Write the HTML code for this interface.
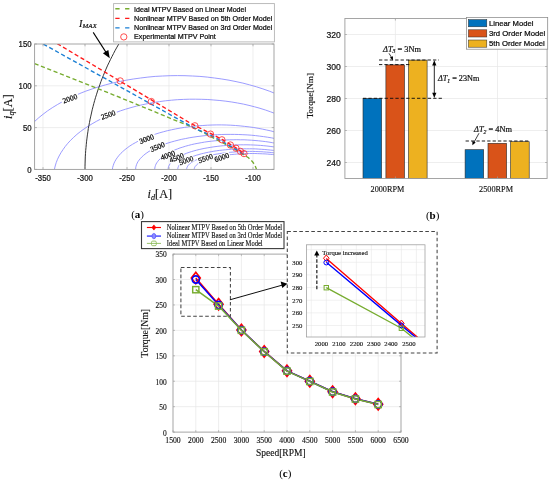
<!DOCTYPE html>
<html><head><meta charset="utf-8"><title>MTPV figure</title>
<style>html,body{margin:0;padding:0;background:#fff;overflow:hidden}svg{display:block}</style></head>
<body><svg width="550" height="482" viewBox="0 0 550 482">
<rect width="550" height="482" fill="#fff"/>
<defs>
<clipPath id="ca"><rect x="34.6" y="44.0" width="239.4" height="125.4"/></clipPath>
<clipPath id="cc"><rect x="173" y="254.1" width="228" height="178"/></clipPath>
<clipPath id="ci"><rect x="306.6" y="244.8" width="118.4" height="92.2"/></clipPath>
<mask id="cm" maskUnits="userSpaceOnUse" x="0" y="0" width="550" height="482"><rect x="0" y="0" width="550" height="482" fill="#fff"/>
<rect x="-9.0" y="-3.4" width="18" height="6.8" fill="#000" transform="translate(70,98.6) rotate(-20)"/>
<rect x="-9.0" y="-3.4" width="18" height="6.8" fill="#000" transform="translate(108.2,114.9) rotate(-19)"/>
<rect x="-9.0" y="-3.4" width="18" height="6.8" fill="#000" transform="translate(146.6,138.9) rotate(-21)"/>
<rect x="-8.5" y="-3.4" width="17" height="6.8" fill="#000" transform="translate(157.6,146.9) rotate(-22)"/>
<rect x="-8.0" y="-3.4" width="16" height="6.8" fill="#000" transform="translate(167.8,155.2) rotate(-21)"/>
<rect x="-8.0" y="-3.4" width="16" height="6.8" fill="#000" transform="translate(176.5,157.8) rotate(-21)"/>
<rect x="-8.0" y="-3.4" width="16" height="6.8" fill="#000" transform="translate(186.2,160.5) rotate(-19)"/>
<rect x="-8.5" y="-3.4" width="17" height="6.8" fill="#000" transform="translate(205.6,158.4) rotate(-19)"/>
<rect x="-8.5" y="-3.4" width="17" height="6.8" fill="#000" transform="translate(221.8,157.4) rotate(-20)"/>
</mask></defs>
<line x1="43.00" y1="44.0" x2="43.00" y2="169.4" stroke="#e6e6e6" stroke-width="0.7"/>
<line x1="85.00" y1="44.0" x2="85.00" y2="169.4" stroke="#e6e6e6" stroke-width="0.7"/>
<line x1="127.00" y1="44.0" x2="127.00" y2="169.4" stroke="#e6e6e6" stroke-width="0.7"/>
<line x1="169.00" y1="44.0" x2="169.00" y2="169.4" stroke="#e6e6e6" stroke-width="0.7"/>
<line x1="211.00" y1="44.0" x2="211.00" y2="169.4" stroke="#e6e6e6" stroke-width="0.7"/>
<line x1="253.00" y1="44.0" x2="253.00" y2="169.4" stroke="#e6e6e6" stroke-width="0.7"/>
<line x1="34.6" y1="127.60" x2="274.0" y2="127.60" stroke="#e6e6e6" stroke-width="0.7"/>
<line x1="34.6" y1="85.80" x2="274.0" y2="85.80" stroke="#e6e6e6" stroke-width="0.7"/>
<g clip-path="url(#ca)"><g mask="url(#cm)" fill="none" stroke="#8a8aff" stroke-width="0.85">
<polyline points="11.2,169.4 11.4,165.2 11.9,161.0 12.8,156.8 13.9,152.7 15.4,148.5 17.2,144.4 19.4,140.4 21.9,136.4 24.6,132.5 27.7,128.7 31.1,125.0 34.8,121.3 38.8,117.7 43.0,114.3 47.5,110.9 52.3,107.7 57.4,104.6 62.6,101.6 68.1,98.8 73.9,96.1 79.8,93.5 85.9,91.1 92.3,88.9 98.8,86.8 105.4,84.9 112.2,83.1 119.1,81.6 126.2,80.2 133.3,79.0 140.6,78.0 147.9,77.1 155.2,76.4 162.7,76.0 170.1,75.7 177.6,75.6 185.0,75.7 192.5,76.0 199.9,76.4 207.3,77.1 214.6,78.0 221.8,79.0 229.0,80.2 236.0,81.6 242.9,83.1 249.7,84.9 256.4,86.8 262.9,88.9 269.2,91.1 275.3,93.5 281.3,96.1"/>
<polyline points="54.4,169.4 55.2,166.0 56.2,162.7 57.5,159.3 59.1,156.0 60.9,152.8 63.0,149.6 65.3,146.4 67.8,143.3 70.6,140.3 73.7,137.3 76.9,134.4 80.4,131.6 84.1,128.9 88.0,126.3 92.1,123.8 96.3,121.4 100.8,119.0 105.4,116.8 110.3,114.7 115.2,112.8 120.3,110.9 125.6,109.2 131.0,107.6 136.5,106.1 142.1,104.8 147.8,103.6 153.6,102.5 159.5,101.6 165.4,100.8 171.4,100.2 177.4,99.7 183.5,99.4 189.6,99.2 195.7,99.2 201.8,99.3 207.8,99.5 213.9,100.0 219.9,100.5 225.9,101.2 231.8,102.0 237.6,103.0 243.4,104.1 249.0,105.4 254.6,106.8 260.0,108.3 265.4,110.0 270.5,111.8 275.6,113.7 280.5,115.7"/>
<polyline points="112.4,169.4 112.7,167.3 113.3,165.3 114.0,163.2 115.0,161.2 116.2,159.2 117.6,157.2 119.1,155.3 120.9,153.3 122.8,151.5 125.0,149.6 127.3,147.8 129.8,146.0 132.5,144.3 135.3,142.7 138.3,141.1 141.4,139.6 144.8,138.1 148.2,136.7 151.8,135.4 155.5,134.1 159.3,132.9 163.3,131.8 167.4,130.7 171.5,129.8 175.8,128.9 180.1,128.1 184.5,127.4 189.0,126.8 193.6,126.2 198.1,125.8 202.8,125.5 207.4,125.2 212.1,125.0 216.8,124.9 221.5,124.9 226.2,125.0 230.8,125.2 235.5,125.5 240.1,125.9 244.7,126.4 249.2,126.9 253.7,127.5 258.1,128.3 262.4,129.1 266.6,130.0 270.8,130.9 274.8,132.0 278.8,133.1"/>
<polyline points="135.7,169.4 135.7,167.8 136.0,166.3 136.5,164.7 137.2,163.1 138.0,161.6 139.1,160.1 140.3,158.6 141.7,157.1 143.3,155.6 145.0,154.2 146.9,152.8 149.0,151.4 151.3,150.1 153.7,148.8 156.3,147.6 159.0,146.4 161.9,145.2 164.9,144.1 168.0,143.0 171.3,142.0 174.6,141.1 178.1,140.2 181.7,139.3 185.4,138.6 189.2,137.8 193.1,137.2 197.0,136.6 201.0,136.1 205.1,135.6 209.2,135.2 213.3,134.9 217.5,134.7 221.8,134.5 226.0,134.4 230.2,134.4 234.5,134.4 238.7,134.5 242.9,134.7 247.1,134.9 251.3,135.2 255.4,135.6 259.5,136.1 263.5,136.6 267.4,137.2 271.3,137.8 275.1,138.6 278.7,139.3"/>
<polyline points="154.7,169.4 154.8,168.1 155.1,166.7 155.5,165.4 156.0,164.1 156.8,162.8 157.7,161.5 158.7,160.2 160.0,159.0 161.3,157.7 162.8,156.5 164.5,155.3 166.3,154.2 168.3,153.1 170.4,152.0 172.6,150.9 175.0,149.9 177.5,148.9 180.1,147.9 182.8,147.1 185.6,146.2 188.5,145.4 191.6,144.6 194.7,143.9 197.9,143.3 201.2,142.7 204.5,142.1 208.0,141.6 211.4,141.2 215.0,140.8 218.5,140.5 222.1,140.2 225.8,140.0 229.4,139.8 233.1,139.8 236.8,139.7 240.5,139.8 244.1,139.8 247.8,140.0 251.4,140.2 255.0,140.5 258.6,140.8 262.1,141.2 265.6,141.6 269.0,142.1 272.4,142.7 275.7,143.3 278.9,143.9"/>
<polyline points="168.1,169.4 168.2,168.3 168.4,167.2 168.8,166.1 169.3,165.0 170.0,163.9 170.8,162.9 171.8,161.8 172.9,160.8 174.2,159.7 175.6,158.7 177.1,157.8 178.8,156.8 180.6,155.9 182.5,155.0 184.6,154.1 186.7,153.2 189.0,152.4 191.4,151.6 193.9,150.9 196.5,150.2 199.2,149.5 202.0,148.9 204.9,148.3 207.8,147.8 210.8,147.3 213.9,146.8 217.1,146.4 220.3,146.0 223.5,145.7 226.8,145.4 230.1,145.2 233.5,145.0 236.8,144.9 240.2,144.8 243.6,144.8 247.0,144.8 250.4,144.9 253.7,145.0 257.1,145.2 260.4,145.4 263.7,145.7 266.9,146.0 270.1,146.4 273.3,146.8 276.4,147.3"/>
<polyline points="177.7,169.4 177.8,168.5 178.0,167.5 178.4,166.6 178.8,165.7 179.5,164.8 180.2,163.9 181.1,163.0 182.1,162.1 183.3,161.3 184.5,160.4 186.0,159.6 187.5,158.8 189.1,158.0 190.9,157.3 192.7,156.5 194.7,155.8 196.8,155.1 199.0,154.5 201.3,153.8 203.6,153.3 206.1,152.7 208.6,152.2 211.2,151.7 213.9,151.2 216.7,150.8 219.5,150.4 222.4,150.1 225.3,149.8 228.2,149.5 231.2,149.3 234.2,149.1 237.3,148.9 240.4,148.8 243.4,148.8 246.5,148.8 249.6,148.8 252.7,148.8 255.8,148.9 258.8,149.1 261.8,149.3 264.8,149.5 267.8,149.8 270.7,150.1 273.6,150.4 276.4,150.8"/>
<polyline points="186.6,169.4 186.7,168.6 186.9,167.8 187.2,167.0 187.7,166.2 188.2,165.4 188.9,164.6 189.7,163.8 190.7,163.1 191.7,162.3 192.9,161.6 194.2,160.9 195.6,160.2 197.1,159.5 198.7,158.8 200.4,158.2 202.2,157.6 204.1,157.0 206.1,156.4 208.2,155.9 210.4,155.3 212.6,154.9 214.9,154.4 217.3,154.0 219.8,153.6 222.3,153.2 224.9,152.9 227.5,152.6 230.2,152.3 232.9,152.1 235.6,151.9 238.4,151.7 241.2,151.6 244.0,151.5 246.8,151.4 249.6,151.4 252.5,151.4 255.3,151.5 258.1,151.6 260.9,151.7 263.7,151.9 266.4,152.1 269.1,152.3 271.8,152.6 274.4,152.9 277.0,153.2"/>
<polyline points="194.2,169.4 194.3,168.7 194.4,168.0 194.7,167.3 195.1,166.6 195.7,165.9 196.3,165.2 197.0,164.5 197.9,163.8 198.9,163.2 199.9,162.5 201.1,161.9 202.4,161.3 203.8,160.6 205.3,160.1 206.8,159.5 208.5,158.9 210.3,158.4 212.1,157.9 214.0,157.4 216.0,157.0 218.1,156.5 220.2,156.1 222.4,155.8 224.7,155.4 227.0,155.1 229.4,154.8 231.8,154.5 234.2,154.3 236.7,154.1 239.3,153.9 241.8,153.8 244.4,153.7 247.0,153.6 249.6,153.5 252.2,153.5 254.8,153.5 257.4,153.6 259.9,153.7 262.5,153.8 265.1,153.9 267.6,154.1 270.1,154.3 272.5,154.5 274.9,154.8 277.3,155.1"/>
</g></g>
<text transform="translate(70,98.6) rotate(-20)" font-family="'Liberation Serif', 'Times New Roman', Times, serif" font-size="7.5" text-anchor="middle" fill="#111" stroke="#111" stroke-width="0.13" dominant-baseline="central" style="stroke-width:0.28px">2000</text>
<text transform="translate(108.2,114.9) rotate(-19)" font-family="'Liberation Serif', 'Times New Roman', Times, serif" font-size="7.5" text-anchor="middle" fill="#111" stroke="#111" stroke-width="0.13" dominant-baseline="central" style="stroke-width:0.28px">2500</text>
<text transform="translate(146.6,138.9) rotate(-21)" font-family="'Liberation Serif', 'Times New Roman', Times, serif" font-size="7.5" text-anchor="middle" fill="#111" stroke="#111" stroke-width="0.13" dominant-baseline="central" style="stroke-width:0.28px">3000</text>
<text transform="translate(157.6,146.9) rotate(-22)" font-family="'Liberation Serif', 'Times New Roman', Times, serif" font-size="7.5" text-anchor="middle" fill="#111" stroke="#111" stroke-width="0.13" dominant-baseline="central" style="stroke-width:0.28px">3500</text>
<text transform="translate(167.8,155.2) rotate(-21)" font-family="'Liberation Serif', 'Times New Roman', Times, serif" font-size="7.5" text-anchor="middle" fill="#111" stroke="#111" stroke-width="0.13" dominant-baseline="central" style="stroke-width:0.28px">4000</text>
<text transform="translate(176.5,157.8) rotate(-21)" font-family="'Liberation Serif', 'Times New Roman', Times, serif" font-size="7.5" text-anchor="middle" fill="#111" stroke="#111" stroke-width="0.13" dominant-baseline="central" style="stroke-width:0.28px">4500</text>
<text transform="translate(186.2,160.5) rotate(-19)" font-family="'Liberation Serif', 'Times New Roman', Times, serif" font-size="7.5" text-anchor="middle" fill="#111" stroke="#111" stroke-width="0.13" dominant-baseline="central" style="stroke-width:0.28px">5000</text>
<text transform="translate(205.6,158.4) rotate(-19)" font-family="'Liberation Serif', 'Times New Roman', Times, serif" font-size="7.5" text-anchor="middle" fill="#111" stroke="#111" stroke-width="0.13" dominant-baseline="central" style="stroke-width:0.28px">5500</text>
<text transform="translate(221.8,157.4) rotate(-20)" font-family="'Liberation Serif', 'Times New Roman', Times, serif" font-size="7.5" text-anchor="middle" fill="#111" stroke="#111" stroke-width="0.13" dominant-baseline="central" style="stroke-width:0.28px">6000</text>
<polyline points="85.0,169.4 85.0,166.3 85.1,163.1 85.2,160.0 85.3,156.9 85.5,153.7 85.7,150.6 86.0,147.5 86.3,144.3 86.6,141.2 87.0,138.1 87.4,134.9 87.9,131.8 88.3,128.6 88.9,125.5 89.5,122.4 90.1,119.2 90.8,116.1 91.5,113.0 92.2,109.8 93.0,106.7 93.8,103.6 94.7,100.4 95.6,97.3 96.6,94.2 97.6,91.0 98.7,87.9 99.8,84.8 100.9,81.6 102.1,78.5 103.4,75.4 104.7,72.2 106.0,69.1 107.4,65.9 108.9,62.8 110.4,59.7 112.0,56.5 113.6,53.4 115.2,50.3 117.0,47.1 118.8,44.0" fill="none" stroke="#2a2a2a" stroke-width="0.95"/>
<polyline points="34.6,63.6 120,97.5 178.2,121.5 194,127.8 204.1,133.0 219.4,141.2 230,146.6 236,150.0 243.5,154.6 248.5,157.8 252.3,161.4 254.8,165 256.6,169.6" fill="none" stroke="#77AC30" stroke-width="1.35" stroke-dasharray="4.2,2.6" clip-path="url(#ca)"/>
<polyline points="43.3,44.1 195.6,128.8 210.5,135.2 222,141.2 230.3,146.2 236,149.4 240.5,152.4 245.5,155.6" fill="none" stroke="#1a7fd4" stroke-width="1.35" stroke-dasharray="4.2,2.6" clip-path="url(#ca)"/>
<polyline points="57.2,43.6 191.3,123.7 210.5,133.4 222,139.4 230.3,144.4 236,147.8 240.5,150.9 245.5,154.6" fill="none" stroke="#ff1a1a" stroke-width="1.35" stroke-dasharray="4.2,2.6" clip-path="url(#ca)"/>
<circle cx="120.2" cy="80.9" r="3.15" fill="none" stroke="#ff3030" stroke-width="0.85"/>
<circle cx="151.3" cy="101.5" r="3.15" fill="none" stroke="#ff3030" stroke-width="0.85"/>
<circle cx="194.9" cy="125.8" r="3.15" fill="none" stroke="#ff3030" stroke-width="0.85"/>
<circle cx="210.5" cy="134.1" r="3.15" fill="none" stroke="#ff3030" stroke-width="0.85"/>
<circle cx="221.9" cy="139.8" r="3.15" fill="none" stroke="#ff3030" stroke-width="0.85"/>
<circle cx="230.4" cy="145" r="3.15" fill="none" stroke="#ff3030" stroke-width="0.85"/>
<circle cx="236" cy="148.2" r="3.15" fill="none" stroke="#ff3030" stroke-width="0.85"/>
<circle cx="240.5" cy="151.4" r="3.15" fill="none" stroke="#ff3030" stroke-width="0.85"/>
<circle cx="244" cy="153.6" r="3.15" fill="none" stroke="#ff3030" stroke-width="0.85"/>
<rect x="34.6" y="44.0" width="239.4" height="125.4" fill="none" stroke="#9c9c9c" stroke-width="0.9"/>
<path d="M43.00,169.4v-2.3M43.00,44.0v2.3" stroke="#9c9c9c" stroke-width="0.7"/>
<text transform="translate(43.00,181.0) scale(1,1.12)" font-family="'Liberation Sans', Arial, Helvetica, sans-serif" font-size="7.8" text-anchor="middle" fill="#151515" stroke="#151515" stroke-width="0.22">-350</text>
<path d="M85.00,169.4v-2.3M85.00,44.0v2.3" stroke="#9c9c9c" stroke-width="0.7"/>
<text transform="translate(85.00,181.0) scale(1,1.12)" font-family="'Liberation Sans', Arial, Helvetica, sans-serif" font-size="7.8" text-anchor="middle" fill="#151515" stroke="#151515" stroke-width="0.22">-300</text>
<path d="M127.00,169.4v-2.3M127.00,44.0v2.3" stroke="#9c9c9c" stroke-width="0.7"/>
<text transform="translate(127.00,181.0) scale(1,1.12)" font-family="'Liberation Sans', Arial, Helvetica, sans-serif" font-size="7.8" text-anchor="middle" fill="#151515" stroke="#151515" stroke-width="0.22">-250</text>
<path d="M169.00,169.4v-2.3M169.00,44.0v2.3" stroke="#9c9c9c" stroke-width="0.7"/>
<text transform="translate(169.00,181.0) scale(1,1.12)" font-family="'Liberation Sans', Arial, Helvetica, sans-serif" font-size="7.8" text-anchor="middle" fill="#151515" stroke="#151515" stroke-width="0.22">-200</text>
<path d="M211.00,169.4v-2.3M211.00,44.0v2.3" stroke="#9c9c9c" stroke-width="0.7"/>
<text transform="translate(211.00,181.0) scale(1,1.12)" font-family="'Liberation Sans', Arial, Helvetica, sans-serif" font-size="7.8" text-anchor="middle" fill="#151515" stroke="#151515" stroke-width="0.22">-150</text>
<path d="M253.00,169.4v-2.3M253.00,44.0v2.3" stroke="#9c9c9c" stroke-width="0.7"/>
<text transform="translate(253.00,181.0) scale(1,1.12)" font-family="'Liberation Sans', Arial, Helvetica, sans-serif" font-size="7.8" text-anchor="middle" fill="#151515" stroke="#151515" stroke-width="0.22">-100</text>
<path d="M34.6,169.40h2.3M274.0,169.40h-2.3" stroke="#9c9c9c" stroke-width="0.7"/>
<text transform="translate(31.6,172.50) scale(1,1.12)" font-family="'Liberation Sans', Arial, Helvetica, sans-serif" font-size="7.8" text-anchor="end" fill="#151515" stroke="#151515" stroke-width="0.22">0</text>
<path d="M34.6,127.60h2.3M274.0,127.60h-2.3" stroke="#9c9c9c" stroke-width="0.7"/>
<text transform="translate(31.6,130.70) scale(1,1.12)" font-family="'Liberation Sans', Arial, Helvetica, sans-serif" font-size="7.8" text-anchor="end" fill="#151515" stroke="#151515" stroke-width="0.22">50</text>
<path d="M34.6,85.80h2.3M274.0,85.80h-2.3" stroke="#9c9c9c" stroke-width="0.7"/>
<text transform="translate(31.6,88.90) scale(1,1.12)" font-family="'Liberation Sans', Arial, Helvetica, sans-serif" font-size="7.8" text-anchor="end" fill="#151515" stroke="#151515" stroke-width="0.22">100</text>
<path d="M34.6,44.00h2.3M274.0,44.00h-2.3" stroke="#9c9c9c" stroke-width="0.7"/>
<text transform="translate(31.6,47.10) scale(1,1.12)" font-family="'Liberation Sans', Arial, Helvetica, sans-serif" font-size="7.8" text-anchor="end" fill="#151515" stroke="#151515" stroke-width="0.22">150</text>
<text x="147.6" y="198.1" font-family="'Liberation Serif', 'Times New Roman', Times, serif" font-size="12.2" fill="#111" stroke="#111" stroke-width="0.15"><tspan font-style="italic">i</tspan><tspan font-style="italic" font-size="8.2" dy="2">d</tspan><tspan dy="-2">[A]</tspan></text>
<text transform="translate(12.2,118.9) rotate(-90)" font-family="'Liberation Serif', 'Times New Roman', Times, serif" font-size="12.2" fill="#111" stroke="#111" stroke-width="0.15"><tspan font-style="italic">i</tspan><tspan font-style="italic" font-size="8.2" dy="2">q</tspan><tspan dy="-2">[A]</tspan></text>
<text x="131.2" y="218.4" font-family="'Liberation Serif', 'Times New Roman', Times, serif" font-size="11" fill="#000">(<tspan font-weight="bold">a</tspan>)</text>
<text x="79" y="27.4" font-family="'Liberation Serif', 'Times New Roman', Times, serif" font-size="10.2" font-style="italic" fill="#111" stroke="#111" stroke-width="0.2">I<tspan font-size="7" dy="0.9">MAX</tspan></text>
<line x1="93.2" y1="32.4" x2="106.2" y2="52.6" stroke="#000" stroke-width="1.05"/>
<polygon points="109.8,58.3 102.9,53.3 108.3,50.1" fill="#000"/>
<rect x="113.6" y="3.6" width="160.8" height="38.3" fill="#fff" stroke="#b4b4b4" stroke-width="0.9"/>
<line x1="115.3" y1="8.7" x2="129.4" y2="8.7" stroke="#77AC30" stroke-width="1.35" stroke-dasharray="4.3,5.5"/>
<line x1="115.3" y1="18.3" x2="129.4" y2="18.3" stroke="#ff1a1a" stroke-width="1.35" stroke-dasharray="4.3,5.5"/>
<line x1="115.3" y1="27.8" x2="129.4" y2="27.8" stroke="#1a7fd4" stroke-width="1.35" stroke-dasharray="4.3,5.5"/>
<text x="134.1" y="11.7" font-family="'Liberation Sans', Arial, Helvetica, sans-serif" font-size="7.1" text-anchor="start" fill="#0a0a0a" textLength="112" lengthAdjust="spacingAndGlyphs" stroke="#0a0a0a" stroke-width="0.22">Ideal MTPV Based on Linear Model</text>
<text x="134.1" y="20.7" font-family="'Liberation Sans', Arial, Helvetica, sans-serif" font-size="7.1" text-anchor="start" fill="#0a0a0a" textLength="138.2" lengthAdjust="spacingAndGlyphs" stroke="#0a0a0a" stroke-width="0.22">Nonlinear MTPV Based on 5th Order Model</text>
<text x="134.1" y="29.8" font-family="'Liberation Sans', Arial, Helvetica, sans-serif" font-size="7.1" text-anchor="start" fill="#0a0a0a" textLength="138.2" lengthAdjust="spacingAndGlyphs" stroke="#0a0a0a" stroke-width="0.22">Nonlinear MTPV Based on 3rd Order Model</text>
<circle cx="123.8" cy="36.9" r="3.15" fill="none" stroke="#ff3030" stroke-width="0.85"/>
<text x="134.1" y="39.3" font-family="'Liberation Sans', Arial, Helvetica, sans-serif" font-size="7.1" text-anchor="start" fill="#0a0a0a" textLength="81.6" lengthAdjust="spacingAndGlyphs" stroke="#0a0a0a" stroke-width="0.22">Experimental MTPV Point</text>
<line x1="395.4" y1="18.5" x2="395.4" y2="178.5" stroke="#e6e6e6" stroke-width="0.7"/>
<line x1="497.5" y1="18.5" x2="497.5" y2="178.5" stroke="#e6e6e6" stroke-width="0.7"/>
<line x1="344.9" y1="162.50" x2="547.1" y2="162.50" stroke="#e6e6e6" stroke-width="0.7"/>
<line x1="344.9" y1="130.50" x2="547.1" y2="130.50" stroke="#e6e6e6" stroke-width="0.7"/>
<line x1="344.9" y1="98.50" x2="547.1" y2="98.50" stroke="#e6e6e6" stroke-width="0.7"/>
<line x1="344.9" y1="66.50" x2="547.1" y2="66.50" stroke="#e6e6e6" stroke-width="0.7"/>
<line x1="344.9" y1="34.50" x2="547.1" y2="34.50" stroke="#e6e6e6" stroke-width="0.7"/>
<rect x="363.00" y="98.50" width="18.6" height="80.00" fill="#0072BD" stroke="#2a2a2a" stroke-width="0.6"/>
<rect x="385.90" y="64.90" width="18.6" height="113.60" fill="#D95319" stroke="#2a2a2a" stroke-width="0.6"/>
<rect x="408.50" y="60.10" width="18.6" height="118.40" fill="#EDB120" stroke="#2a2a2a" stroke-width="0.6"/>
<rect x="465.10" y="149.70" width="18.6" height="28.80" fill="#0072BD" stroke="#2a2a2a" stroke-width="0.6"/>
<rect x="488.00" y="143.30" width="18.6" height="35.20" fill="#D95319" stroke="#2a2a2a" stroke-width="0.6"/>
<rect x="510.60" y="141.70" width="18.6" height="36.80" fill="#EDB120" stroke="#2a2a2a" stroke-width="0.6"/>
<rect x="344.9" y="18.5" width="202.2" height="160.0" fill="none" stroke="#9c9c9c" stroke-width="0.9"/>
<path d="M344.9,162.50h2M547.1,162.50h-2" stroke="#9c9c9c" stroke-width="0.7"/>
<text transform="translate(340.9,165.70) scale(1,1.1)" font-family="'Liberation Sans', Arial, Helvetica, sans-serif" font-size="8.6" text-anchor="end" fill="#151515" stroke="#151515" stroke-width="0.22">240</text>
<path d="M344.9,130.50h2M547.1,130.50h-2" stroke="#9c9c9c" stroke-width="0.7"/>
<text transform="translate(340.9,133.70) scale(1,1.1)" font-family="'Liberation Sans', Arial, Helvetica, sans-serif" font-size="8.6" text-anchor="end" fill="#151515" stroke="#151515" stroke-width="0.22">260</text>
<path d="M344.9,98.50h2M547.1,98.50h-2" stroke="#9c9c9c" stroke-width="0.7"/>
<text transform="translate(340.9,101.70) scale(1,1.1)" font-family="'Liberation Sans', Arial, Helvetica, sans-serif" font-size="8.6" text-anchor="end" fill="#151515" stroke="#151515" stroke-width="0.22">280</text>
<path d="M344.9,66.50h2M547.1,66.50h-2" stroke="#9c9c9c" stroke-width="0.7"/>
<text transform="translate(340.9,69.70) scale(1,1.1)" font-family="'Liberation Sans', Arial, Helvetica, sans-serif" font-size="8.6" text-anchor="end" fill="#151515" stroke="#151515" stroke-width="0.22">300</text>
<path d="M344.9,34.50h2M547.1,34.50h-2" stroke="#9c9c9c" stroke-width="0.7"/>
<text transform="translate(340.9,37.70) scale(1,1.1)" font-family="'Liberation Sans', Arial, Helvetica, sans-serif" font-size="8.6" text-anchor="end" fill="#151515" stroke="#151515" stroke-width="0.22">320</text>
<path d="M395.4,178.5v-2M395.4,18.5v2" stroke="#9c9c9c" stroke-width="0.7"/>
<path d="M497.5,178.5v-2M497.5,18.5v2" stroke="#9c9c9c" stroke-width="0.7"/>
<text x="387.4" y="191.9" font-family="'Liberation Serif', 'Times New Roman', Times, serif" font-size="8.2" text-anchor="middle" fill="#111" textLength="33.7" lengthAdjust="spacingAndGlyphs" stroke="#111" stroke-width="0.13">2000RPM</text>
<text x="496" y="192.3" font-family="'Liberation Serif', 'Times New Roman', Times, serif" font-size="8.2" text-anchor="middle" fill="#111" textLength="34" lengthAdjust="spacingAndGlyphs" stroke="#111" stroke-width="0.13">2500RPM</text>
<text transform="translate(313.0,95.7) rotate(-90)" font-family="'Liberation Serif', 'Times New Roman', Times, serif" font-size="9" text-anchor="middle" fill="#111" textLength="45.3" lengthAdjust="spacingAndGlyphs" stroke="#111" stroke-width="0.13">Torque[Nm]</text>
<text x="425.9" y="219.1" font-family="'Liberation Serif', 'Times New Roman', Times, serif" font-size="11" fill="#000">(<tspan font-weight="bold">b</tspan>)</text>
<line x1="379" y1="60" x2="439" y2="60" stroke="#111" stroke-width="0.95" stroke-dasharray="3.3,2.1"/>
<line x1="379" y1="64.6" x2="410" y2="64.6" stroke="#111" stroke-width="0.95" stroke-dasharray="3.3,2.1"/>
<line x1="363" y1="98.3" x2="443" y2="98.3" stroke="#111" stroke-width="0.95" stroke-dasharray="3.3,2.1"/>
<line x1="465.6" y1="141" x2="529" y2="141" stroke="#111" stroke-width="0.95" stroke-dasharray="3.3,2.1"/>
<line x1="434.3" y1="63" x2="434.3" y2="95" stroke="#000" stroke-width="0.85"/>
<polygon points="434.3,60.3 432.2,65.5 436.4,65.5" fill="#000"/>
<polygon points="434.3,98 432.2,92.8 436.4,92.8" fill="#000"/>
<line x1="389" y1="53.3" x2="391.9" y2="58" stroke="#000" stroke-width="0.75"/>
<polygon points="393,60.5 389.9,57.6 392.9,56.3" fill="#000"/>
<line x1="479" y1="133.2" x2="473.8" y2="142.6" stroke="#000" stroke-width="0.75"/>
<polygon points="472.4,145.3 472.4,141 475.7,142.6" fill="#000"/>
<text x="383" y="51.6" font-family="'Liberation Serif', 'Times New Roman', Times, serif" font-size="8.2" fill="#111" stroke="#111" stroke-width="0.2" textLength="38" lengthAdjust="spacingAndGlyphs"><tspan font-style="italic">ΔT</tspan><tspan font-style="italic" font-size="5.6" dy="1.5">3</tspan><tspan dy="-1.5"> = 3Nm</tspan></text>
<text x="437.9" y="81" font-family="'Liberation Serif', 'Times New Roman', Times, serif" font-size="8.2" fill="#111" stroke="#111" stroke-width="0.2" textLength="41.5" lengthAdjust="spacingAndGlyphs"><tspan font-style="italic">ΔT</tspan><tspan font-style="italic" font-size="5.6" dy="1.5">1</tspan><tspan dy="-1.5"> = 23Nm</tspan></text>
<text x="474" y="132.2" font-family="'Liberation Serif', 'Times New Roman', Times, serif" font-size="8.2" fill="#111" stroke="#111" stroke-width="0.2" textLength="38" lengthAdjust="spacingAndGlyphs"><tspan font-style="italic">ΔT</tspan><tspan font-style="italic" font-size="5.6" dy="1.5">2</tspan><tspan dy="-1.5"> = 4Nm</tspan></text>
<rect x="466.5" y="17.6" width="81.2" height="31.6" fill="#fff" stroke="#8a8a8a" stroke-width="0.75"/>
<rect x="468.4" y="19.6" width="18.4" height="7.2" fill="#0072BD" stroke="#2a2a2a" stroke-width="0.5"/>
<text x="489" y="26.0" font-family="'Liberation Sans', Arial, Helvetica, sans-serif" font-size="7.7" text-anchor="start" fill="#0a0a0a" textLength="44.5" lengthAdjust="spacingAndGlyphs" stroke="#0a0a0a" stroke-width="0.22">Linear Model</text>
<rect x="468.4" y="29.8" width="18.4" height="7.2" fill="#D95319" stroke="#2a2a2a" stroke-width="0.5"/>
<text x="489" y="36.2" font-family="'Liberation Sans', Arial, Helvetica, sans-serif" font-size="7.7" text-anchor="start" fill="#0a0a0a" textLength="56.3" lengthAdjust="spacingAndGlyphs" stroke="#0a0a0a" stroke-width="0.22">3rd Order Model</text>
<rect x="468.4" y="40.0" width="18.4" height="7.2" fill="#EDB120" stroke="#2a2a2a" stroke-width="0.5"/>
<text x="489" y="46.4" font-family="'Liberation Sans', Arial, Helvetica, sans-serif" font-size="7.7" text-anchor="start" fill="#0a0a0a" textLength="55.8" lengthAdjust="spacingAndGlyphs" stroke="#0a0a0a" stroke-width="0.22">5th Order Model</text>
<line x1="195.80" y1="254.1" x2="195.80" y2="432.1" stroke="#e6e6e6" stroke-width="0.7"/>
<line x1="218.60" y1="254.1" x2="218.60" y2="432.1" stroke="#e6e6e6" stroke-width="0.7"/>
<line x1="241.40" y1="254.1" x2="241.40" y2="432.1" stroke="#e6e6e6" stroke-width="0.7"/>
<line x1="264.20" y1="254.1" x2="264.20" y2="432.1" stroke="#e6e6e6" stroke-width="0.7"/>
<line x1="287.00" y1="254.1" x2="287.00" y2="432.1" stroke="#e6e6e6" stroke-width="0.7"/>
<line x1="309.80" y1="254.1" x2="309.80" y2="432.1" stroke="#e6e6e6" stroke-width="0.7"/>
<line x1="332.60" y1="254.1" x2="332.60" y2="432.1" stroke="#e6e6e6" stroke-width="0.7"/>
<line x1="355.40" y1="254.1" x2="355.40" y2="432.1" stroke="#e6e6e6" stroke-width="0.7"/>
<line x1="378.20" y1="254.1" x2="378.20" y2="432.1" stroke="#e6e6e6" stroke-width="0.7"/>
<line x1="173.0" y1="406.67" x2="401.0" y2="406.67" stroke="#e6e6e6" stroke-width="0.7"/>
<line x1="173.0" y1="381.24" x2="401.0" y2="381.24" stroke="#e6e6e6" stroke-width="0.7"/>
<line x1="173.0" y1="355.81" x2="401.0" y2="355.81" stroke="#e6e6e6" stroke-width="0.7"/>
<line x1="173.0" y1="330.38" x2="401.0" y2="330.38" stroke="#e6e6e6" stroke-width="0.7"/>
<line x1="173.0" y1="304.95" x2="401.0" y2="304.95" stroke="#e6e6e6" stroke-width="0.7"/>
<line x1="173.0" y1="279.52" x2="401.0" y2="279.52" stroke="#e6e6e6" stroke-width="0.7"/>
<g clip-path="url(#cc)" fill="none" stroke-linejoin="round">
<polyline points="195.80,277.99 218.60,304.14 241.40,329.97 264.20,351.44 287.00,370.86 309.80,381.19 332.60,391.72 355.40,398.74 378.20,404.28" stroke="#ff0000" stroke-width="1.5"/>
<polyline points="195.80,279.52 218.60,304.90 241.40,330.07 264.20,351.54 287.00,370.92 309.80,381.24 332.60,391.77 355.40,398.79 378.20,404.33" stroke="#0000ff" stroke-width="1.5"/>
<polyline points="195.80,289.69 218.60,306.07 241.40,330.28 264.20,351.74 287.00,371.12 309.80,381.44 332.60,391.97 355.40,398.99 378.20,404.53" stroke="#77AC30" stroke-width="1.5"/>
</g>
<polygon points="195.80,272.29 200.30,277.99 195.80,283.69 191.30,277.99" fill="none" stroke="#ff0000" stroke-width="1.6"/>
<polygon points="218.60,298.44 223.10,304.14 218.60,309.84 214.10,304.14" fill="none" stroke="#ff0000" stroke-width="1.6"/>
<polygon points="241.40,324.27 245.90,329.97 241.40,335.67 236.90,329.97" fill="none" stroke="#ff0000" stroke-width="1.6"/>
<polygon points="264.20,345.74 268.70,351.44 264.20,357.14 259.70,351.44" fill="none" stroke="#ff0000" stroke-width="1.6"/>
<polygon points="287.00,365.16 291.50,370.86 287.00,376.56 282.50,370.86" fill="none" stroke="#ff0000" stroke-width="1.6"/>
<polygon points="309.80,375.49 314.30,381.19 309.80,386.89 305.30,381.19" fill="none" stroke="#ff0000" stroke-width="1.6"/>
<polygon points="332.60,386.02 337.10,391.72 332.60,397.42 328.10,391.72" fill="none" stroke="#ff0000" stroke-width="1.6"/>
<polygon points="355.40,393.04 359.90,398.74 355.40,404.44 350.90,398.74" fill="none" stroke="#ff0000" stroke-width="1.6"/>
<polygon points="378.20,398.58 382.70,404.28 378.20,409.98 373.70,404.28" fill="none" stroke="#ff0000" stroke-width="1.6"/>
<circle cx="195.80" cy="279.52" r="3.6" fill="none" stroke="#0000ff" stroke-width="1.6"/>
<circle cx="218.60" cy="304.90" r="3.6" fill="none" stroke="#0000ff" stroke-width="1.6"/>
<circle cx="241.40" cy="330.07" r="3.6" fill="none" stroke="#0000ff" stroke-width="1.6"/>
<circle cx="264.20" cy="351.54" r="3.6" fill="none" stroke="#0000ff" stroke-width="1.6"/>
<circle cx="287.00" cy="370.92" r="3.6" fill="none" stroke="#0000ff" stroke-width="1.6"/>
<circle cx="309.80" cy="381.24" r="3.6" fill="none" stroke="#0000ff" stroke-width="1.6"/>
<circle cx="332.60" cy="391.77" r="3.6" fill="none" stroke="#0000ff" stroke-width="1.6"/>
<circle cx="355.40" cy="398.79" r="3.6" fill="none" stroke="#0000ff" stroke-width="1.6"/>
<circle cx="378.20" cy="404.33" r="3.6" fill="none" stroke="#0000ff" stroke-width="1.6"/>
<rect x="192.70" y="286.59" width="6.2" height="6.2" fill="none" stroke="#77AC30" stroke-width="1.45"/>
<rect x="215.50" y="302.97" width="6.2" height="6.2" fill="none" stroke="#77AC30" stroke-width="1.45"/>
<rect x="238.30" y="327.18" width="6.2" height="6.2" fill="none" stroke="#77AC30" stroke-width="1.45"/>
<rect x="261.10" y="348.64" width="6.2" height="6.2" fill="none" stroke="#77AC30" stroke-width="1.45"/>
<rect x="283.90" y="368.02" width="6.2" height="6.2" fill="none" stroke="#77AC30" stroke-width="1.45"/>
<rect x="306.70" y="378.34" width="6.2" height="6.2" fill="none" stroke="#77AC30" stroke-width="1.45"/>
<rect x="329.50" y="388.87" width="6.2" height="6.2" fill="none" stroke="#77AC30" stroke-width="1.45"/>
<rect x="352.30" y="395.89" width="6.2" height="6.2" fill="none" stroke="#77AC30" stroke-width="1.45"/>
<rect x="375.10" y="401.43" width="6.2" height="6.2" fill="none" stroke="#77AC30" stroke-width="1.45"/>
<rect x="173.0" y="254.1" width="228.0" height="178.0" fill="none" stroke="#9c9c9c" stroke-width="0.9"/>
<path d="M173.00,432.1v-2M173.00,254.1v2" stroke="#9c9c9c" stroke-width="0.6"/>
<text x="173.00" y="442.7" font-family="'Liberation Serif', 'Times New Roman', Times, serif" font-size="7.7" text-anchor="middle" fill="#111" stroke="#111" stroke-width="0.13">1500</text>
<path d="M195.80,432.1v-2M195.80,254.1v2" stroke="#9c9c9c" stroke-width="0.6"/>
<text x="195.80" y="442.7" font-family="'Liberation Serif', 'Times New Roman', Times, serif" font-size="7.7" text-anchor="middle" fill="#111" stroke="#111" stroke-width="0.13">2000</text>
<path d="M218.60,432.1v-2M218.60,254.1v2" stroke="#9c9c9c" stroke-width="0.6"/>
<text x="218.60" y="442.7" font-family="'Liberation Serif', 'Times New Roman', Times, serif" font-size="7.7" text-anchor="middle" fill="#111" stroke="#111" stroke-width="0.13">2500</text>
<path d="M241.40,432.1v-2M241.40,254.1v2" stroke="#9c9c9c" stroke-width="0.6"/>
<text x="241.40" y="442.7" font-family="'Liberation Serif', 'Times New Roman', Times, serif" font-size="7.7" text-anchor="middle" fill="#111" stroke="#111" stroke-width="0.13">3000</text>
<path d="M264.20,432.1v-2M264.20,254.1v2" stroke="#9c9c9c" stroke-width="0.6"/>
<text x="264.20" y="442.7" font-family="'Liberation Serif', 'Times New Roman', Times, serif" font-size="7.7" text-anchor="middle" fill="#111" stroke="#111" stroke-width="0.13">3500</text>
<path d="M287.00,432.1v-2M287.00,254.1v2" stroke="#9c9c9c" stroke-width="0.6"/>
<text x="287.00" y="442.7" font-family="'Liberation Serif', 'Times New Roman', Times, serif" font-size="7.7" text-anchor="middle" fill="#111" stroke="#111" stroke-width="0.13">4000</text>
<path d="M309.80,432.1v-2M309.80,254.1v2" stroke="#9c9c9c" stroke-width="0.6"/>
<text x="309.80" y="442.7" font-family="'Liberation Serif', 'Times New Roman', Times, serif" font-size="7.7" text-anchor="middle" fill="#111" stroke="#111" stroke-width="0.13">4500</text>
<path d="M332.60,432.1v-2M332.60,254.1v2" stroke="#9c9c9c" stroke-width="0.6"/>
<text x="332.60" y="442.7" font-family="'Liberation Serif', 'Times New Roman', Times, serif" font-size="7.7" text-anchor="middle" fill="#111" stroke="#111" stroke-width="0.13">5000</text>
<path d="M355.40,432.1v-2M355.40,254.1v2" stroke="#9c9c9c" stroke-width="0.6"/>
<text x="355.40" y="442.7" font-family="'Liberation Serif', 'Times New Roman', Times, serif" font-size="7.7" text-anchor="middle" fill="#111" stroke="#111" stroke-width="0.13">5500</text>
<path d="M378.20,432.1v-2M378.20,254.1v2" stroke="#9c9c9c" stroke-width="0.6"/>
<text x="378.20" y="442.7" font-family="'Liberation Serif', 'Times New Roman', Times, serif" font-size="7.7" text-anchor="middle" fill="#111" stroke="#111" stroke-width="0.13">6000</text>
<path d="M401.00,432.1v-2M401.00,254.1v2" stroke="#9c9c9c" stroke-width="0.6"/>
<text x="401.00" y="442.7" font-family="'Liberation Serif', 'Times New Roman', Times, serif" font-size="7.7" text-anchor="middle" fill="#111" stroke="#111" stroke-width="0.13">6500</text>
<path d="M173.0,432.10h2M401.0,432.10h-2" stroke="#9c9c9c" stroke-width="0.6"/>
<text x="166.7" y="435.50" font-family="'Liberation Serif', 'Times New Roman', Times, serif" font-size="7.4" text-anchor="end" fill="#111" stroke="#111" stroke-width="0.13">0</text>
<path d="M173.0,406.67h2M401.0,406.67h-2" stroke="#9c9c9c" stroke-width="0.6"/>
<text x="166.7" y="410.07" font-family="'Liberation Serif', 'Times New Roman', Times, serif" font-size="7.4" text-anchor="end" fill="#111" stroke="#111" stroke-width="0.13">50</text>
<path d="M173.0,381.24h2M401.0,381.24h-2" stroke="#9c9c9c" stroke-width="0.6"/>
<text x="166.7" y="384.64" font-family="'Liberation Serif', 'Times New Roman', Times, serif" font-size="7.4" text-anchor="end" fill="#111" stroke="#111" stroke-width="0.13">100</text>
<path d="M173.0,355.81h2M401.0,355.81h-2" stroke="#9c9c9c" stroke-width="0.6"/>
<text x="166.7" y="359.21" font-family="'Liberation Serif', 'Times New Roman', Times, serif" font-size="7.4" text-anchor="end" fill="#111" stroke="#111" stroke-width="0.13">150</text>
<path d="M173.0,330.38h2M401.0,330.38h-2" stroke="#9c9c9c" stroke-width="0.6"/>
<text x="166.7" y="333.78" font-family="'Liberation Serif', 'Times New Roman', Times, serif" font-size="7.4" text-anchor="end" fill="#111" stroke="#111" stroke-width="0.13">200</text>
<path d="M173.0,304.95h2M401.0,304.95h-2" stroke="#9c9c9c" stroke-width="0.6"/>
<text x="166.7" y="308.35" font-family="'Liberation Serif', 'Times New Roman', Times, serif" font-size="7.4" text-anchor="end" fill="#111" stroke="#111" stroke-width="0.13">250</text>
<path d="M173.0,279.52h2M401.0,279.52h-2" stroke="#9c9c9c" stroke-width="0.6"/>
<text x="166.7" y="282.92" font-family="'Liberation Serif', 'Times New Roman', Times, serif" font-size="7.4" text-anchor="end" fill="#111" stroke="#111" stroke-width="0.13">300</text>
<path d="M173.0,254.09h2M401.0,254.09h-2" stroke="#9c9c9c" stroke-width="0.6"/>
<text x="166.7" y="257.49" font-family="'Liberation Serif', 'Times New Roman', Times, serif" font-size="7.4" text-anchor="end" fill="#111" stroke="#111" stroke-width="0.13">350</text>
<text x="280.8" y="456.4" font-family="'Liberation Serif', 'Times New Roman', Times, serif" font-size="9.5" text-anchor="middle" fill="#111" textLength="49.5" lengthAdjust="spacingAndGlyphs" stroke="#111" stroke-width="0.13">Speed[RPM]</text>
<text transform="translate(148.4,333.3) rotate(-90)" font-family="'Liberation Serif', 'Times New Roman', Times, serif" font-size="9.6" text-anchor="middle" fill="#111" textLength="48.7" lengthAdjust="spacingAndGlyphs" stroke="#111" stroke-width="0.13">Torque[Nm]</text>
<text x="279.2" y="477.2" font-family="'Liberation Serif', 'Times New Roman', Times, serif" font-size="11" fill="#000">(<tspan font-weight="bold">c</tspan>)</text>
<rect x="180.9" y="267.4" width="49.5" height="48.9" fill="none" stroke="#444" stroke-width="1.05" stroke-dasharray="3.6,2.4"/>
<rect x="287.3" y="231.5" width="149.8" height="121.5" fill="#fff" stroke="#444" stroke-width="1.05" stroke-dasharray="3.6,2.4"/>
<line x1="229.9" y1="299.8" x2="282" y2="285.2" stroke="#000" stroke-width="0.95"/>
<polygon points="287.4,283.7 280.6,281.4 282.3,288.1" fill="#000"/>
<line x1="311.28" y1="244.8" x2="311.28" y2="337.0" stroke="#e6e6e6" stroke-width="0.55"/>
<line x1="326.30" y1="244.8" x2="326.30" y2="337.0" stroke="#e6e6e6" stroke-width="0.55"/>
<line x1="341.32" y1="244.8" x2="341.32" y2="337.0" stroke="#e6e6e6" stroke-width="0.55"/>
<line x1="356.34" y1="244.8" x2="356.34" y2="337.0" stroke="#e6e6e6" stroke-width="0.55"/>
<line x1="371.36" y1="244.8" x2="371.36" y2="337.0" stroke="#e6e6e6" stroke-width="0.55"/>
<line x1="386.38" y1="244.8" x2="386.38" y2="337.0" stroke="#e6e6e6" stroke-width="0.55"/>
<line x1="401.40" y1="244.8" x2="401.40" y2="337.0" stroke="#e6e6e6" stroke-width="0.55"/>
<line x1="416.42" y1="244.8" x2="416.42" y2="337.0" stroke="#e6e6e6" stroke-width="0.55"/>
<line x1="306.6" y1="325.50" x2="425.0" y2="325.50" stroke="#e6e6e6" stroke-width="0.55"/>
<line x1="306.6" y1="312.86" x2="425.0" y2="312.86" stroke="#e6e6e6" stroke-width="0.55"/>
<line x1="306.6" y1="300.22" x2="425.0" y2="300.22" stroke="#e6e6e6" stroke-width="0.55"/>
<line x1="306.6" y1="287.58" x2="425.0" y2="287.58" stroke="#e6e6e6" stroke-width="0.55"/>
<line x1="306.6" y1="274.94" x2="425.0" y2="274.94" stroke="#e6e6e6" stroke-width="0.55"/>
<line x1="306.6" y1="262.30" x2="425.0" y2="262.30" stroke="#e6e6e6" stroke-width="0.55"/>
<line x1="306.6" y1="249.66" x2="425.0" y2="249.66" stroke="#e6e6e6" stroke-width="0.55"/>
<g clip-path="url(#ci)" fill="none" stroke-linejoin="round">
<polyline points="326.30,258.51 401.40,323.48 476.50,387.69 551.60,441.03 626.70,489.31 701.80,514.97 776.90,541.14 852.00,558.58 927.10,572.36" stroke="#ff0000" stroke-width="1.35"/>
<polyline points="326.30,262.30 401.40,325.37 476.50,387.94 551.60,441.28 626.70,489.44 701.80,515.10 776.90,541.26 852.00,558.71 927.10,572.49" stroke="#0000ff" stroke-width="1.35"/>
<polyline points="326.30,287.58 401.40,328.28 476.50,388.45 551.60,441.79 626.70,489.95 701.80,515.61 776.90,541.77 852.00,559.21 927.10,572.99" stroke="#77AC30" stroke-width="1.35"/>
</g>
<polygon points="326.30,254.96 329.10,258.26 326.30,261.56 323.50,258.26" fill="none" stroke="#ff0000" stroke-width="1"/>
<circle cx="326.30" cy="262.55" r="2.4" fill="none" stroke="#0000ff" stroke-width="1"/>
<rect x="324.10" y="285.51" width="4.4" height="4.4" fill="none" stroke="#77AC30" stroke-width="1"/>
<polygon points="401.40,320.05 404.20,323.35 401.40,326.65 398.60,323.35" fill="none" stroke="#ff0000" stroke-width="1"/>
<circle cx="401.40" cy="325.37" r="2.4" fill="none" stroke="#0000ff" stroke-width="1"/>
<rect x="399.20" y="326.08" width="4.4" height="4.4" fill="none" stroke="#77AC30" stroke-width="1"/>
<rect x="306.6" y="244.8" width="118.4" height="92.2" fill="none" stroke="#9c9c9c" stroke-width="0.75"/>
<text x="302.4" y="327.80" font-family="'Liberation Serif', 'Times New Roman', Times, serif" font-size="6.7" text-anchor="end" fill="#111" stroke="#111" stroke-width="0.13">250</text>
<text x="302.4" y="315.16" font-family="'Liberation Serif', 'Times New Roman', Times, serif" font-size="6.7" text-anchor="end" fill="#111" stroke="#111" stroke-width="0.13">260</text>
<text x="302.4" y="302.52" font-family="'Liberation Serif', 'Times New Roman', Times, serif" font-size="6.7" text-anchor="end" fill="#111" stroke="#111" stroke-width="0.13">270</text>
<text x="302.4" y="289.88" font-family="'Liberation Serif', 'Times New Roman', Times, serif" font-size="6.7" text-anchor="end" fill="#111" stroke="#111" stroke-width="0.13">280</text>
<text x="302.4" y="277.24" font-family="'Liberation Serif', 'Times New Roman', Times, serif" font-size="6.7" text-anchor="end" fill="#111" stroke="#111" stroke-width="0.13">290</text>
<text x="302.4" y="264.60" font-family="'Liberation Serif', 'Times New Roman', Times, serif" font-size="6.7" text-anchor="end" fill="#111" stroke="#111" stroke-width="0.13">300</text>
<text x="321.4" y="345.6" font-family="'Liberation Serif', 'Times New Roman', Times, serif" font-size="6.7" text-anchor="middle" fill="#111" stroke="#111" stroke-width="0.13">2000</text>
<text x="339" y="345.6" font-family="'Liberation Serif', 'Times New Roman', Times, serif" font-size="6.7" text-anchor="middle" fill="#111" stroke="#111" stroke-width="0.13">2100</text>
<text x="356.5" y="345.6" font-family="'Liberation Serif', 'Times New Roman', Times, serif" font-size="6.7" text-anchor="middle" fill="#111" stroke="#111" stroke-width="0.13">2200</text>
<text x="373.8" y="345.6" font-family="'Liberation Serif', 'Times New Roman', Times, serif" font-size="6.7" text-anchor="middle" fill="#111" stroke="#111" stroke-width="0.13">2300</text>
<text x="391" y="345.6" font-family="'Liberation Serif', 'Times New Roman', Times, serif" font-size="6.7" text-anchor="middle" fill="#111" stroke="#111" stroke-width="0.13">2400</text>
<text x="408.9" y="345.6" font-family="'Liberation Serif', 'Times New Roman', Times, serif" font-size="6.7" text-anchor="middle" fill="#111" stroke="#111" stroke-width="0.13">2500</text>
<line x1="316.8" y1="289.2" x2="316.8" y2="255" stroke="#4a4a4a" stroke-width="1.5" stroke-dasharray="3.4,1.9"/>
<polygon points="316.8,250.6 314.2,255.6 319.4,255.6" fill="#000"/>
<text x="322.3" y="255.4" font-family="'Liberation Serif', 'Times New Roman', Times, serif" font-size="7" text-anchor="start" fill="#111" textLength="45.4" lengthAdjust="spacingAndGlyphs" stroke="#111" stroke-width="0.13">Torque increased</text>
<rect x="141.5" y="221.6" width="142.5" height="27" fill="#fff" stroke="#3a3a3a" stroke-width="1.1"/>
<line x1="146.9" y1="227.5" x2="161" y2="227.5" stroke="#ff0000" stroke-width="1.15"/>
<polygon points="153.9,224.9 155.8,227.5 153.9,230.1 152,227.5" fill="#ff0000" stroke="#ff0000" stroke-width="0.7"/>
<line x1="146.9" y1="236.1" x2="161" y2="236.1" stroke="#5a5aff" stroke-width="1.6"/>
<ellipse cx="153.9" cy="236.1" rx="1.9" ry="2.7" fill="#8a8aff" stroke="#5a5aff" stroke-width="0.8"/>
<line x1="146.9" y1="243.4" x2="161" y2="243.4" stroke="#8dbb5a" stroke-width="0.9"/>
<rect x="151.5" y="241.1" width="4.8" height="4.6" rx="1.2" fill="none" stroke="#8dbb5a" stroke-width="0.9"/>
<text x="166.7" y="229.6" font-family="'Liberation Serif', 'Times New Roman', Times, serif" font-size="7.2" text-anchor="start" fill="#111" textLength="115.5" lengthAdjust="spacingAndGlyphs" stroke="#111" stroke-width="0.13">Nolinear MTPV Based on 5th Order Model</text>
<text x="166.7" y="237.9" font-family="'Liberation Serif', 'Times New Roman', Times, serif" font-size="7.2" text-anchor="start" fill="#111" textLength="115.5" lengthAdjust="spacingAndGlyphs" stroke="#111" stroke-width="0.13">Nolinear MTPV Based on 3rd Order Model</text>
<text x="166.7" y="246.0" font-family="'Liberation Serif', 'Times New Roman', Times, serif" font-size="7.2" text-anchor="start" fill="#111" textLength="96" lengthAdjust="spacingAndGlyphs" stroke="#111" stroke-width="0.13">Ideal MTPV Based on Linear Model</text>
</svg></body></html>
